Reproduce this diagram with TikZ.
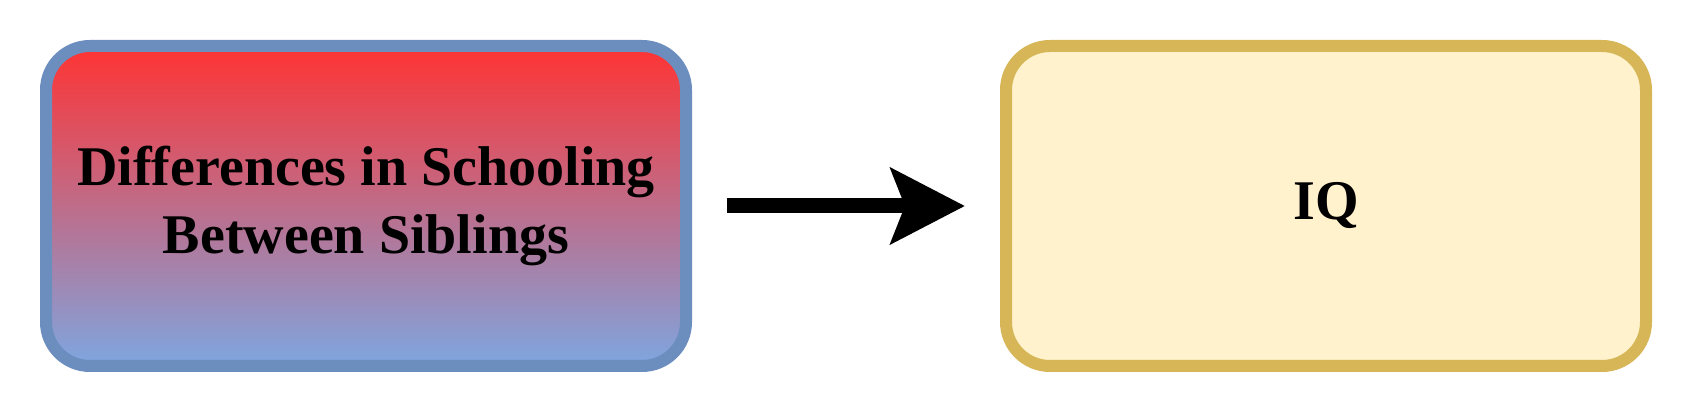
\documentclass[tikz,border=0pt]{standalone}
\usepackage{fontspec}
\setmainfont{Liberation Serif}
\usetikzlibrary{arrows.meta}

\definecolor{boxred}{HTML}{FF3333}
\definecolor{boxblue}{HTML}{7EA6E0}
\definecolor{blueline}{HTML}{6C8EBF}
\definecolor{iqfill}{HTML}{FFF2CC}
\definecolor{iqline}{HTML}{D6B656}

\begin{document}
\begin{tikzpicture}[x=0.5pt,y=0.5pt]

        \useasboundingbox (0,0) rectangle (1692,412);

        \begin{scope}[every node/.style={rounded corners=22pt,line width=6pt,
            minimum width=320pt,minimum height=160pt,align=center,
            font=\bfseries\fontsize{28pt}{34pt}\selectfont}]
          \node[draw=blueline,top color=boxred,bottom color=boxblue] (schooling) at (366,206)
            {Differences in Schooling\\Between Siblings};
          \node[draw=iqline,fill=iqfill] (iq) at (1326,206) {IQ};
        \end{scope}

        \begin{scope}[every edge/.style={draw,line width=7.5pt,shorten <=17.5pt,shorten >=17.5pt}]
          \path (schooling) edge[-{Stealth[length=37pt,width=37.5pt,inset=7pt]}] (iq);
        \end{scope}

      \end{tikzpicture}
\end{document}
